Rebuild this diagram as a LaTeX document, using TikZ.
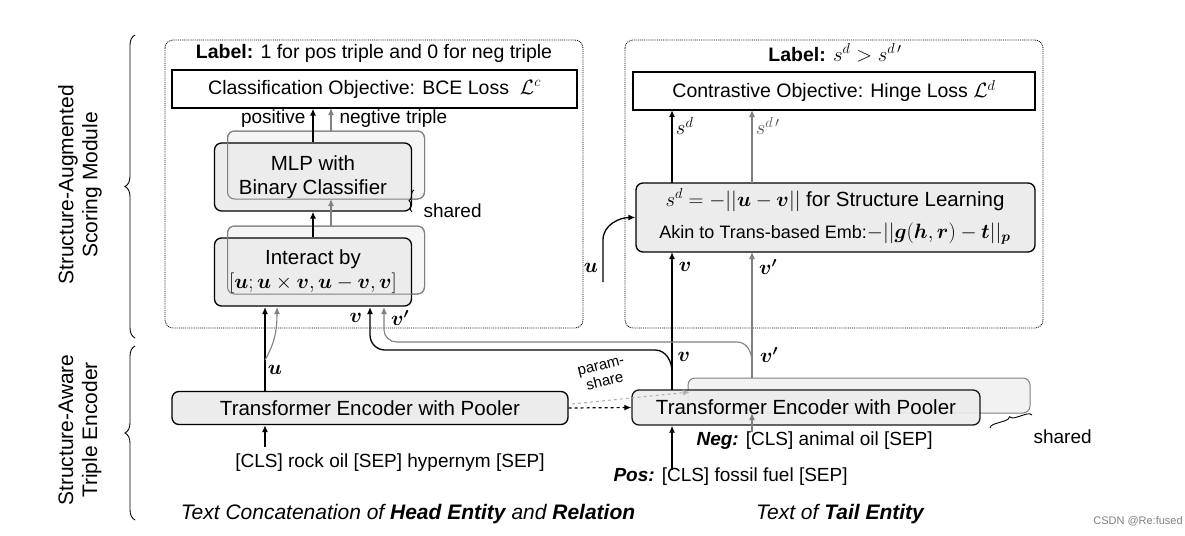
\documentclass[tikz,border=0pt]{standalone}
\usepackage{amsmath,bm}
\usepackage{fontspec}
\setmainfont{Liberation Sans}
\usetikzlibrary{arrows.meta,decorations.pathreplacing}
\begin{document}
\begin{tikzpicture}[x=1pt,y=-1pt,
  fbox/.style={draw=black,line width=1.3pt,rounded corners=7pt,fill=gray!15,inner sep=0pt,align=center,font=\fontsize{20.5}{24}\selectfont},
  bbox/.style={draw=gray,line width=1pt,rounded corners=7pt,inner sep=0pt},
  obj/.style={draw=black,line width=1.3pt,fill=white,inner sep=0pt,font=\fontsize{19.5}{22}\selectfont},
  dot/.style={draw=black,densely dotted,line width=0.9pt,rounded corners=8pt},
  blk/.style={line width=1.3pt,-{Latex[length=7pt,width=6pt]}},
  gry/.style={line width=1.1pt,draw=gray,-{Latex[length=7pt,width=6pt]}},
  lab/.style={font=\fontsize{19}{21}\selectfont},
  mth/.style={font=\fontsize{22}{24}\selectfont},
  brc/.style={decorate,decoration={brace,amplitude=10pt},line width=0.9pt}]
\useasboundingbox (0,0) rectangle (1185,535);
% dotted regions
\draw[dot] (165,40) rectangle (583,328);
\draw[dot] (625,40) rectangle (1043,328);
\node[font=\fontsize{19.5}{21}\selectfont] (labL) at (374,53) {\textbf{Label:} 1 for pos triple and 0 for neg triple};
\node[font=\fontsize{19.5}{21}\selectfont] (labR) at (835,53) {\textbf{Label:} $s^d > s^{d\,\prime}$};
% objectives
\node[obj,minimum width=405pt,minimum height=38pt] (cls) at (374.5,89) {Classification Objective: BCE Loss~ $\mathcal{L}^c$};
\node[obj,minimum width=402pt,minimum height=38pt] (con) at (834,91) {Contrastive Objective: Hinge Loss $\mathcal{L}^d$};
% MLP
\node[bbox,fill=gray!8,minimum width=197pt,minimum height=68pt] (mlpB) at (326,165) {};
\node[fbox,minimum width=197pt,minimum height=68pt] (mlp) at (313,177) {MLP with\\Binary Classifier};
\node[bbox,minimum width=197pt,minimum height=68pt] at (326,165) {};
% Interact
\node[bbox,fill=gray!8,minimum width=197pt,minimum height=68pt] (intB) at (326,260) {};
\node[fbox,minimum width=197pt,minimum height=68pt] (int) at (313,272) {Interact by\\{\fontsize{22}{24}\selectfont$[\bm{u};\bm{u}\times\bm{v},\bm{u}-\bm{v},\bm{v}]$}};
\node[bbox,minimum width=197pt,minimum height=68pt] at (326,260) {};
\draw[brc,decoration={brace,amplitude=4pt,mirror}] (414,190) -- (412,212);
\node[lab,anchor=west] (sh1) at (420,211) {shared};
% arrows left top
\draw[blk] (mlp.north) -- (mlp.north |- cls.south);
\draw[gry] (331,131) -- (331,108);
\node[lab,anchor=east] (pos) at (309,119) {positive};
\node[lab,anchor=west] (neg) at (336,119) {negtive triple};
\draw[blk] (int.north) -- (mlp.south);
\draw[gry] (331,226) -- (331,199);
% structure box
\node[fbox,minimum width=399pt,minimum height=69pt] (str) at (835.5,217.5) {};
\node[font=\fontsize{20.5}{24}\selectfont] (strt1) at (835,200) {$s^d=-||\bm{u}-\bm{v}||$ for Structure Learning};
\node[font=\fontsize{18}{20}\selectfont] (strt2) at (835,234) {Akin to Trans-based Emb:{\fontsize{20}{22}\selectfont$-||\bm{g}(\bm{h},\bm{r})-\bm{t}||_{\bm{p}}$}};
\draw[blk] (672,183) -- (672,110) node[pos=0.78,right,mth] {$s^d$};
\draw[gry] (752,183) -- (752,110) node[pos=0.78,right,mth,text=gray!70!black] {$s^{d\,\prime}$};
\coordinate (uin) at (603,282);
\draw[blk] (uin) -- (603,240) to[out=90,in=180] (str.west);
\node[mth] (ul2) at (591,268) {$\bm{u}$};
% encoders
\node[fbox,minimum width=396pt,minimum height=33pt] (encL) at (370,408) {Transformer Encoder with Pooler};
\node[bbox,fill=gray!10,minimum width=342pt,minimum height=35pt] (encRB) at (859,395.5) {};
\node[fbox,fill=gray!15,opacity=0.9,text opacity=1,minimum width=348pt,minimum height=35pt] (encR) at (806,407.5) {Transformer Encoder with Pooler};
\draw[brc,decoration={brace,amplitude=5pt,mirror}] (1032,415) -- (990,428);
\node[lab,anchor=west] (sh2) at (1030,437) {shared};
% param share
\draw[line width=1.2pt,dashed,-{Latex[length=7pt,width=6pt]}] (encL.east) -- (encR.west);
\draw[line width=1.1pt,gray!60,dashed,-{Latex[length=7pt,width=6pt]}] (572,404) -- (690,392);
\node[rotate=14,align=center,font=\fontsize{15}{16}\selectfont] (ps) at (603,374) {param-\\share};
% u to interact
\draw[blk] (encL.north -| 265,0) -- (265,307);
\draw[line width=1.1pt,gray,-{Latex[length=7pt,width=6pt]}] (265,360) to[out=60,in=270] (277,307);
\node[mth] (ul) at (275,370) {$\bm{u}$};
% v lines
\draw[blk] (672,390) -- (672,252);
\draw[gry] (752,378) -- (752,252);
\node[mth] at (685,267) {$\bm{v}$};
\node[mth] at (768,267) {$\bm{v'}$};
\draw[line width=1.3pt,-{Latex[length=7pt,width=6pt]}] (672,372) to[out=90,in=0] (655,350) -- (385,350) to[out=180,in=270] (370,335) -- (370,307);
\draw[line width=1.1pt,gray,-{Latex[length=7pt,width=6pt]}] (752,362) to[out=90,in=0] (737,342) -- (397,342) to[out=180,in=270] (384,330) -- (384,307);
\node[mth] at (356,318) {$\bm{v}$};
\node[mth] at (400,318) {$\bm{v'}$};
\node[mth] at (684,357) {$\bm{v}$};
\node[mth] at (769,355) {$\bm{v'}$};
% inputs
\coordinate (inL) at (265,447);
\draw[blk] (inL) -- (encL.south -| 265,0);
\node[lab] (tL) at (390,463) {[CLS] rock oil [SEP] hypernym [SEP]};
\coordinate (inP) at (672,470);
\draw[blk] (inP) -- (encR.south -| 672,0);
\draw[gry] (752,432) -- (752,413);
\node[lab,anchor=west] (tN) at (693,441) {\textbf{\textit{Neg:}} [CLS] animal oil [SEP]};
\node[lab,anchor=west] (tP) at (610,477) {\textbf{\textit{Pos:}} [CLS] fossil fuel [SEP]};
% captions
\node[font=\itshape\fontsize{21}{24}\selectfont] (cL) at (408,514) {Text Concatenation of \textbf{Head Entity} and \textbf{Relation}};
\node[font=\itshape\fontsize{21}{24}\selectfont] (cR) at (840,514) {Text of \textbf{Tail Entity}};
% side labels
\node[rotate=90,align=center,font=\fontsize{21}{24}\selectfont] (sa) at (80,185) {Structure-Augmented\\Scoring Module};
\node[rotate=90,align=center,font=\fontsize{21}{24}\selectfont] (se) at (80,430) {Structure-Aware\\Triple Encoder};
\draw[brc] (135,338) -- (135,35);
\draw[brc] (135,520) -- (135,346);
\node[text=gray,font=\fontsize{11}{12}\selectfont] (wm) at (1138,521) {CSDN @Re:fused};
\end{tikzpicture}
\end{document}
